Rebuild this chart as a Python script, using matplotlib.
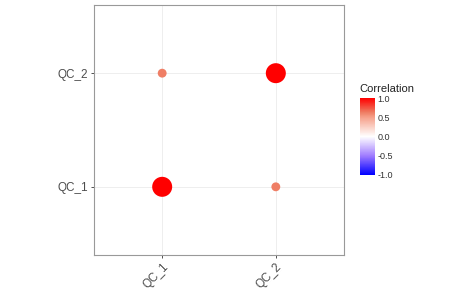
import numpy as np
import matplotlib.pyplot as plt
from matplotlib.colors import LinearSegmentedColormap, Normalize
from matplotlib.cm import ScalarMappable

plt.rcParams['font.family'] = ['Liberation Sans', 'DejaVu Sans']

labels = ['QC_1', 'QC_2']
# correlation matrix (rows = y, cols = x)
corr = [[1.0, 0.62],
        [0.62, 1.0]]

cmap = LinearSegmentedColormap.from_list(
    'bwr2', [(0, '#0000FF'), (0.25, '#A07CFF'), (0.5, '#FFFFFF'),
             (0.75, '#F6A08A'), (0.82, '#EE7A60'), (1, '#FF0000')])
norm = Normalize(-1, 1)

fig = plt.figure(figsize=(4.74, 2.92), dpi=100)
ax = fig.add_axes([94 / 474, 1 - 255 / 292, 250 / 474, 250 / 292])

xs, ys, vals = [], [], []
for i, row in enumerate(corr):
    for j, v in enumerate(row):
        xs.append(j + 1)
        ys.append(i + 1)
        vals.append(v)
vals = np.array(vals)
diam_pt = 20 * np.abs(vals) ** 1.7 * 0.72
ax.scatter(xs, ys, c=vals, cmap=cmap, norm=norm, s=diam_pt ** 2,
           edgecolors='none', zorder=3)

ax.set_xlim(0.4, 2.6)
ax.set_ylim(0.4, 2.6)
ax.set_xticks([1, 2])
ax.set_yticks([1, 2])
ax.set_xticklabels(labels, rotation=45, ha='right', va='top',
                   rotation_mode='anchor')
ax.set_yticklabels(labels)
ax.tick_params(colors='#333333', labelcolor='#4d4d4d', labelsize=8.5,
               length=2.5, width=0.6, pad=2)
ax.grid(True, color='#ebebeb', linewidth=0.6, zorder=0)
for sp in ax.spines.values():
    sp.set_color('#999999')
    sp.set_linewidth(0.8)

cax = fig.add_axes([360 / 474, 1 - 175 / 292, 15 / 474, 77 / 292])
cb = fig.colorbar(ScalarMappable(norm=norm, cmap=cmap), cax=cax)
cb.outline.set_visible(False)
cb.set_ticks([-1, -0.5, 0, 0.5, 1])
cb.set_ticklabels(['-1.0', '-0.5', '0.0', '0.5', '1.0'])
cax.tick_params(length=0, labelsize=6.5, pad=2, labelcolor='#333333')
fig.text(359 / 474, 1 - 89 / 292, 'Correlation', fontsize=8, va='center',
         color='#222222')

fig.savefig('out.png', dpi=100)
